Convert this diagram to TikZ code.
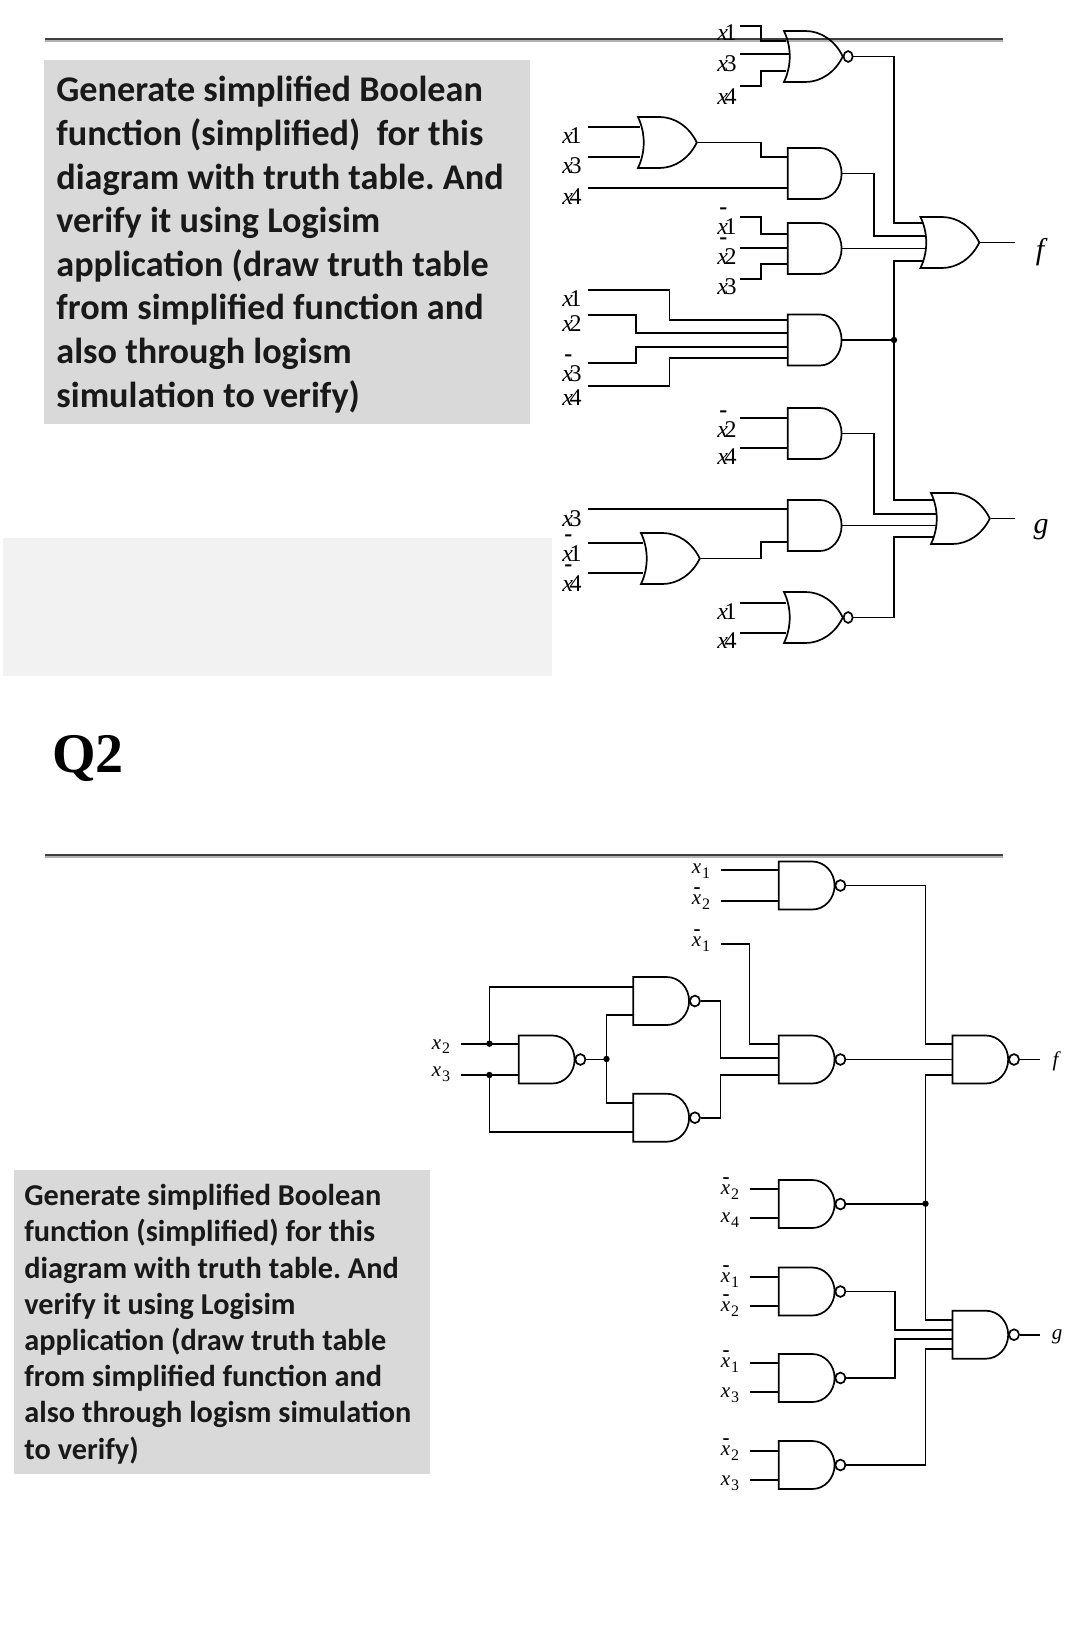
\documentclass[tikz,border=0pt]{standalone}
\usepackage{fontspec}
\setmainfont{Liberation Serif}
\newfontfamily\boxfont{Carlito}
\usepackage{xcolor}
\usetikzlibrary{shapes.gates.logic.US}
\frenchspacing
\definecolor{boxgray}{HTML}{D9D9D9}
\definecolor{palegray}{HTML}{F2F2F2}
\definecolor{rulegray}{HTML}{3F3F3F}
\newcommand{\xv}[1]{{\itshape x}\kern-1.8pt#1}
\newcommand{\xb}[1]{\smash{\rlap{\raisebox{10pt}{\bfseries\kern1pt-}}}\xv{#1}}
\newcommand{\xs}[1]{{\itshape x}\kern.4pt\raisebox{-2.4pt}{\footnotesize #1}}
\newcommand{\xt}[1]{\smash{\rlap{\raisebox{5.6pt}{\bfseries\kern.8pt-}}}\xs{#1}}
\tikzset{
  wire/.style={line width=.85pt},
  bus/.style 2 args={to path={-- (#1,0 |- \tikztostart) -- (#1,#2) -- (\tikztotarget |- #1,#2)}},
  hz/.style={to path={-- (\tikztostart -| \tikztotarget)}},
  back/.style={shorten >=1.3pt},
  gate/.style={draw,line width=.85pt,inner sep=0pt,anchor=west,transform shape,logic gate inverted radius=2.7pt},
  andg/.style={gate,and gate US,xscale=.845,minimum height=25.5pt},
  org/.style={gate,or gate US,xscale=.845,minimum height=25.5pt},
  norg/.style={gate,nor gate US,xscale=.845,minimum height=25.5pt},
  nandg/.style={gate,nand gate US,xscale=.93,minimum height=24pt},
  dotn/.style={circle,fill=black,inner sep=0pt,minimum size=3.2pt},
  lblt/.style={font=\fontsize{12}{12}\selectfont,inner sep=0pt},
  lbls/.style={font=\fontsize{10.5}{10.5}\selectfont,inner sep=0pt},
  textbox/.style={font=\boxfont\bfseries,text=black!90,align=left,anchor=north west,inner sep=0pt}
}
\begin{document}
\begin{tikzpicture}[x=.5pt,y=-.5pt]
	\useasboundingbox (0,0) rectangle (1080,1652);
	% boxes and rules
	\fill[palegray] (3,538) rectangle (552,676);
	\fill[boxgray] (44,60) rectangle (530,424);
	\fill[boxgray] (14,1170) rectangle (430,1474);
	\coordinate (r1) at (45,39);
	\coordinate (r2) at (1003,39);
	\coordinate (r3) at (45,855);
	\coordinate (r4) at (1003,855);
	\draw[black!30,line width=2pt] (r1) ++(0,1) -- ++(958,0);
	\draw[black!30,line width=2pt] (r3) ++(0,1) -- ++(958,0);
	\draw[rulegray,line width=1.3pt] (r1) -- (r2);
	\draw[rulegray,line width=1.3pt] (r3) -- (r4);
	\node[textbox,font=\fontsize{18.1}{21.8}\selectfont\boxfont\bfseries] (T1) at (56,76) {Generate simplified Boolean\\function (simplified)~ for this\\diagram with truth table. And\\verify it using Logisim\\application (draw truth table\\from simplified function and\\also through logism\\simulation to verify)};
	\node[textbox,font=\fontsize{15.15}{18.1}\selectfont\boxfont\bfseries] (T2) at (24,1184) {Generate simplified Boolean\\function (simplified) for this\\diagram with truth table. And\\verify it using Logisim\\application (draw truth table\\from simplified function and\\also through logism simulation\\to verify)};
	\node[font=\fontsize{28}{28}\selectfont\bfseries,inner sep=0pt] (Q) at (88,758) {Q2};
	% first circuit, gates
	\node[norg] (G1) at (789,56.5) {};
	\node[org] (G2) at (643,142.5) {};
	\node[andg] (G3) at (787,173.5) {};
	\node[andg] (G4) at (787,248.5) {};
	\node[andg] (G5) at (787,340) {};
	\node[andg] (G6) at (787,433.5) {};
	\node[andg] (G7) at (787,525.5) {};
	\node[org] (G8) at (646,558.5) {};
	\node[norg] (G9) at (789,617.5) {};
	\node[org] (OrF) at (925.5,242.5) {};
	\node[org] (OrG) at (936,518.5) {};
	\node[dotn] (J1) at (894,340) {};
	% first circuit, labels
	\node[lblt] (A1) at (727,33) {\xv{1}};
	\node[lblt] (A2) at (727,64) {\xv{3}};
	\node[lblt] (A3) at (727,97) {\xv{4}};
	\node[lblt] (B1) at (572,136) {\xv{1}};
	\node[lblt] (B2) at (572,166) {\xv{3}};
	\node[lblt] (B3) at (572,197) {\xv{4}};
	\node[lblt] (C1) at (727,227) {\xb{1}};
	\node[lblt] (C2) at (727,257) {\xb{2}};
	\node[lblt] (C3) at (727,287) {\xv{3}};
	\node[lblt] (D1) at (572,299) {\xv{1}};
	\node[lblt] (D2) at (572,324) {\xv{2}};
	\node[lblt] (D3) at (572,374) {\xb{3}};
	\node[lblt] (D4) at (572,398) {\xv{4}};
	\node[lblt] (E1) at (727,430) {\xb{2}};
	\node[lblt] (E2) at (727,457) {\xv{4}};
	\node[lblt] (H1) at (572,519) {\xv{3}};
	\node[lblt] (H2) at (572,554) {\xb{1}};
	\node[lblt] (H3) at (572,584) {\xb{4}};
	\node[lblt] (K1) at (727,612) {\xv{1}};
	\node[lblt] (K2) at (727,641) {\xv{4}};
	\node[font=\fontsize{15}{15}\selectfont\itshape,inner sep=0pt] (Lf) at (1040,252) {f};
	\node[font=\fontsize{15}{15}\selectfont\itshape,inner sep=0pt] (Lg) at (1041,530) {g};
	% first circuit, free ends
	\coordinate (a1) at (740,26);
	\coordinate (a2) at (740,54);
	\coordinate (a3) at (740,86);
	\coordinate (b1) at (588,127);
	\coordinate (b2) at (588,157);
	\coordinate (b3) at (588,188);
	\coordinate (c1) at (740,217);
	\coordinate (c2) at (740,248);
	\coordinate (c3) at (740,279);
	\coordinate (d1) at (588,290);
	\coordinate (d2) at (588,315);
	\coordinate (d3) at (588,363);
	\coordinate (d4) at (588,386);
	\coordinate (e1) at (740,418);
	\coordinate (e2) at (740,448);
	\coordinate (h1) at (588,509);
	\coordinate (h2) at (588,543);
	\coordinate (h3) at (588,573);
	\coordinate (k1) at (740,603);
	\coordinate (k2) at (740,633);
	\coordinate (m1) at (1015,241);
	\coordinate (m2) at (1015,519);
	%
	\path[wire]
	% inputs
	(a1) edge[bus={761}{41},back] (G1.west)
	(a2) edge[hz] (G1.west)
	(a3) edge[bus={761}{71},back] (G1.west)
	(b1) edge[hz,back] (G2.west)
	(b2) edge[hz,back] (G2.west)
	(b3) edge[hz] (G3.west)
	(c1) edge[bus={761}{234}] (G4.west)
	(c2) edge[hz] (G4.west)
	(c3) edge[bus={761}{264}] (G4.west)
	(d1) edge[bus={669.5}{320}] (G5.west)
	(d2) edge[bus={636}{333}] (G5.west)
	(d3) edge[bus={636}{347}] (G5.west)
	(d4) edge[bus={669.5}{358}] (G5.west)
	(e1) edge[hz] (G6.west)
	(e2) edge[hz] (G6.west)
	(h1) edge[hz] (G7.west)
	(h2) edge[hz,back] (G8.west)
	(h3) edge[hz,back] (G8.west)
	(k1) edge[hz,back] (G9.west)
	(k2) edge[hz,back] (G9.west)
	% between gates
	(G2.output) edge[bus={761}{157}] (G3.west)
	(G8.output) edge[bus={761}{542}] (G7.west)
	(G1.output) edge[bus={894}{223},back] (OrF.west)
	(G3.output) edge[bus={874}{236}] (OrF.west)
	(G4.output) edge[hz] (OrF.west)
	(J1) edge[bus={894}{261},back] (OrF.west)
	(J1) edge[bus={894}{500},back] (OrG.west)
	(G5.output) edge[hz] (J1)
	(G6.output) edge[bus={874}{514}] (OrG.west)
	(G7.output) edge[hz] (OrG.west)
	(G9.output) edge[bus={894}{537},back] (OrG.west)
	(OrF.output) edge[hz] (m1)
	(OrG.output) edge[hz] (m2);
	% second circuit, gates
	\node[nandg] (N1) at (778,885.5) {};
	\node[nandg] (N2) at (778,1059.5) {};
	\node[nandg] (N3) at (632.5,1001) {};
	\node[nandg] (N4) at (632.5,1117.7) {};
	\node[nandg] (N5) at (518,1059.5) {};
	\node[nandg] (N6) at (778,1204) {};
	\node[nandg] (N7) at (778,1291.5) {};
	\node[nandg] (N8) at (778,1378) {};
	\node[nandg] (N9) at (778,1465) {};
	\node[nandg] (NF) at (951.6,1059.5) {};
	\node[nandg] (NG) at (951.6,1334.7) {};
	\node[dotn] (J2) at (489.4,1043.7) {};
	\node[dotn] (J3) at (489.4,1075) {};
	\node[dotn] (J4) at (606.5,1059) {};
	\node[dotn] (J5) at (925.5,1203.7) {};
	% second circuit, labels
	\node[lbls] (P1) at (701,871) {\xs{1}};
	\node[lbls] (P2) at (701,902) {\xt{2}};
	\node[lbls] (P3) at (701,944) {\xt{1}};
	\node[lbls] (Q1) at (441,1046.7) {\xs{2}};
	\node[lbls] (Q3) at (441,1074) {\xs{3}};
	\node[lbls] (R1) at (730,1192) {\xt{2}};
	\node[lbls] (R2) at (730,1220) {\xs{4}};
	\node[lbls] (R3) at (730,1280) {\xt{1}};
	\node[lbls] (R4) at (730,1309) {\xt{2}};
	\node[lbls] (R5) at (730,1365) {\xt{1}};
	\node[lbls] (R6) at (730,1395) {\xs{3}};
	\node[lbls] (R7) at (730,1453) {\xt{2}};
	\node[lbls] (R8) at (730,1483) {\xs{3}};
	\node[font=\fontsize{10.5}{10.5}\selectfont\itshape,inner sep=0pt] (Sf) at (1055.5,1061.7) {f};
	\node[font=\fontsize{10.5}{10.5}\selectfont\itshape,inner sep=0pt] (Sg) at (1057,1336.7) {g};
	% second circuit, free ends
	\coordinate (p1) at (721,870);
	\coordinate (p2) at (721,901);
	\coordinate (p3) at (721,944);
	\coordinate (q1) at (461,1043.7);
	\coordinate (q3) at (461,1075);
	\coordinate (s1) at (749.7,1189);
	\coordinate (s2) at (749.7,1218);
	\coordinate (s3) at (749.7,1277);
	\coordinate (s4) at (749.7,1306);
	\coordinate (s5) at (749.7,1363);
	\coordinate (s6) at (749.7,1392);
	\coordinate (s7) at (749.7,1451);
	\coordinate (s8) at (749.7,1480);
	\coordinate (m3) at (1040,1059);
	\coordinate (m4) at (1040,1334.7);
	%
	\path[wire]
	% inputs
	(p1) edge[hz] (N1.west)
	(p2) edge[hz] (N1.west)
	(p3) edge[bus={749.5}{1043.7}] (N2.west)
	(q1) edge[hz] (N5.west)
	(q3) edge[hz] (N5.west)
	(s1) edge[hz] (N6.west)
	(s2) edge[hz] (N6.west)
	(s3) edge[hz] (N7.west)
	(s4) edge[hz] (N7.west)
	(s5) edge[hz] (N8.west)
	(s6) edge[hz] (N8.west)
	(s7) edge[hz] (N9.west)
	(s8) edge[hz] (N9.west)
	(J2) edge[bus={489.4}{986.7}] (N3.west)
	(J3) edge[bus={489.4}{1132.3}] (N4.west)
	(N5.output) edge[hz] (J4)
	(J4) edge[bus={606.5}{1015}] (N3.west)
	(J4) edge[bus={606.5}{1103.3}] (N4.west)
	% between gates
	(N3.output) edge[bus={720.5}{1058}] (N2.west)
	(N4.output) edge[bus={720.5}{1075}] (N2.west)
	(N1.output) edge[bus={925.5}{1043.7}] (NF.west)
	(N2.output) edge[hz] (NF.west)
	(J5) edge[bus={925.5}{1075}] (NF.west)
	(J5) edge[bus={925.5}{1320}] (NG.west)
	(N6.output) edge[hz] (J5)
	(N7.output) edge[bus={894.7}{1330}] (NG.west)
	(N8.output) edge[bus={894.7}{1338.7}] (NG.west)
	(N9.output) edge[bus={925.5}{1349}] (NG.west)
	(NF.output) edge[hz] (m3)
	(NG.output) edge[hz] (m4);
\end{tikzpicture}
\end{document}
